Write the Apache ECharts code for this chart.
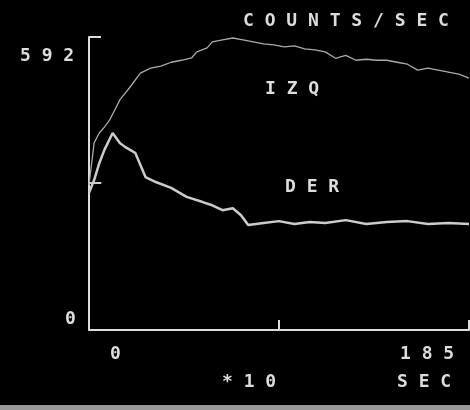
<!DOCTYPE html>
<html><head><meta charset="utf-8">
<script src="https://cdn.jsdelivr.net/npm/echarts@6/dist/echarts.min.js"></script>
<style>html,body{margin:0;background:#000}#c{width:470px;height:410px}</style>
</head><body><div id="c"></div>
<script>
// time in units of 10 sec, counts/sec
var izqT = [0, 5, 10, 15, 20, 25, 30, 40, 50, 60, 70, 80, 90, 100, 105, 115, 120, 130, 140, 150, 160, 170, 180, 190, 200, 210, 220, 230, 240, 250, 260, 270, 280, 290, 300, 310, 320, 330, 340, 350, 360, 370];
var izqV = [293, 378, 398, 410, 424, 444, 465, 491, 519, 529, 533, 541, 545, 550, 562, 570, 582, 586, 590, 586, 582, 578, 576, 572, 574, 568, 566, 562, 549, 555, 545, 547, 545, 545, 541, 537, 525, 529, 525, 521, 517, 509];
var derT = [0, 5, 10, 15, 23, 30, 35, 45, 55, 65, 80, 95, 110, 120, 130, 140, 148, 155, 170, 185, 200, 215, 230, 250, 270, 290, 310, 330, 350, 370];
var derV = [277, 303, 337, 364, 398, 378, 370, 358, 309, 299, 287, 269, 259, 252, 242, 246, 232, 212, 216, 220, 214, 218, 216, 222, 214, 218, 220, 214, 216, 214];
var yMax = 592, xMax = 370, xMid = 185;

var chart = echarts.init(document.getElementById('c'));
var pairs = function (t, v) { return t.map(function (x, i) { return [x, v[i]]; }); };
var txt = function (x, y, s, align) {
  return {type: 'text', left: x, top: y, style: {text: s, fill: '#ddd', font: 'bold 18px "DejaVu Sans Mono"', align: align || 'left'}};
};
chart.setOption({
  backgroundColor: '#000',
  animation: false,
  grid: {left: 89, top: 37, right: 1, bottom: 80},
  xAxis: {type: 'value', min: 0, max: xMax, interval: xMid,
    axisLine: {lineStyle: {color: '#ddd', width: 2}},
    axisTick: {inside: true, length: 10, lineStyle: {color: '#ddd', width: 2}},
    axisLabel: {show: false}, splitLine: {show: false}},
  yAxis: {type: 'value', min: 0, max: yMax, interval: yMax,
    axisLine: {show: true, lineStyle: {color: '#ddd', width: 2}},
    axisTick: {inside: true, length: 12, lineStyle: {color: '#ddd', width: 2}},
    axisLabel: {show: false}, splitLine: {show: false}},
  series: [
    {name: 'IZQ', type: 'line', symbol: 'none', data: pairs(izqT, izqV),
      lineStyle: {color: '#aaa', width: 1.3}},
    {name: 'DER', type: 'line', symbol: 'none', data: pairs(derT, derV),
      lineStyle: {color: '#ccc', width: 2.5},
      markLine: {silent: true, symbol: 'none', label: {show: false},
        lineStyle: {color: '#ccc', width: 2, type: 'solid'},
        data: [[{coord: [0, 297]}, {coord: [12, 297]}]]}}
  ],
  graphic: [
    txt(243, 12, 'C O U N T S / S E C'),
    txt(20, 47, '5 9 2'),
    txt(65, 310, '0'),
    txt(265, 80, 'I Z Q'),
    txt(285, 178, 'D E R'),
    txt(110, 345, '0'),
    txt(400, 345, '1 8 5'),
    txt(222, 373, '* 1 0'),
    txt(397, 373, 'S E C'),
    {type: 'rect', shape: {x: 0, y: 405, width: 470, height: 5}, style: {fill: '#999'}}
  ]
});
</script></body></html>
